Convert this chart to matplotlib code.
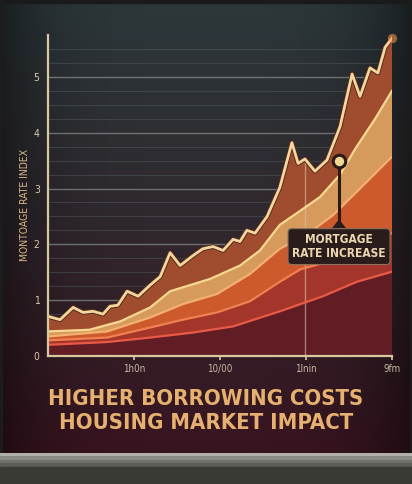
import numpy as np
import matplotlib
matplotlib.use("Agg")
import matplotlib.pyplot as plt
from matplotlib import font_manager
from matplotlib.patches import Rectangle, Polygon

# ---------------- data ----------------
top_x = [0, 3.5, 7.3, 10.2, 13.1, 16, 18, 20.3, 23, 26.2, 29.7, 32.6, 35.5, 38.4,
         42.2, 45, 48, 50.9, 53.8, 55.8, 57.8, 60.2, 63.7, 67.4, 70.9, 72.7, 74.7,
         77.6, 81.1, 84.9, 88.4, 90.7, 93.6, 95.9, 98, 100]
top_y = [0.71, 0.65, 0.87, 0.78, 0.80, 0.75, 0.89, 0.91, 1.16, 1.07, 1.27, 1.42,
         1.85, 1.62, 1.80, 1.92, 1.96, 1.89, 2.09, 2.05, 2.25, 2.20, 2.50, 3.02,
         3.82, 3.45, 3.53, 3.31, 3.51, 4.11, 5.05, 4.65, 5.16, 5.07, 5.53, 5.69]

tan_x = [0, 12, 21, 29.7, 35.5, 47.1, 55.8, 61.6, 67.4, 73.3, 79.1, 84.9, 89.2, 95.1, 100]
tan_y = [0.44, 0.47, 0.62, 0.87, 1.16, 1.38, 1.62, 1.89, 2.35, 2.60, 2.85, 3.25, 3.70, 4.25, 4.75]

org_x = [0, 17.2, 29.7, 39.2, 49.1, 58.7, 67.4, 75.3, 82.8, 90.7, 100]
org_y = [0.35, 0.44, 0.69, 0.93, 1.11, 1.47, 1.92, 2.18, 2.52, 3.00, 3.57]

red_x = [0, 17.2, 29.7, 39.2, 49.1, 58.7, 67.4, 73.3, 79.1, 86, 93, 100]
red_y = [0.28, 0.33, 0.51, 0.65, 0.78, 0.98, 1.33, 1.55, 1.65, 1.85, 2.05, 2.20]

low_x = [0, 17.2, 29.7, 42.2, 53.8, 67.4, 79.9, 89.8, 100]
low_y = [0.20, 0.25, 0.33, 0.42, 0.53, 0.80, 1.07, 1.33, 1.51]

x_ticks = [25, 50, 75, 100]
x_labels = ["1h0n", "10/00", "1lnin", "9fm"]
y_ticks = [0, 1, 2, 3, 4, 5]

marker_x, marker_y = 84.6, 3.50
vline_x = 74.7

title = "HIGHER BORROWING COSTS\nHOUSING MARKET IMPACT"
ylabel = "MONTOAGE RATE INDEX"
note = "MORTGAGE\nRATE INCREASE"

# ---------------- fonts ----------------
names = {f.name for f in font_manager.fontManager.ttflist}
if "Liberation Sans Narrow" in names:
    cond = ["Liberation Sans Narrow", "DejaVu Sans"]
    cstretch = "normal"
else:
    cond = ["DejaVu Sans"]
    cstretch = "condensed"

W, H = 412, 484
fig = plt.figure(figsize=(W / 100, H / 100), dpi=100)

# background gradient
bg = fig.add_axes([0, 0, 1, 1])
bg.set_xlim(0, W)
bg.set_ylim(H, 0)
bg.axis("off")
top_c = np.array([0x2c, 0x38, 0x3b]) / 255
mid_c = np.array([0x30, 0x28, 0x2e]) / 255
bot_c = np.array([0x38, 0x14, 0x20]) / 255
t = np.linspace(0, 1, 256)[:, None]
grad = np.where(t < 0.5, top_c * (1 - t / 0.5) + mid_c * (t / 0.5),
                mid_c * (1 - (t - 0.5) / 0.5) + bot_c * ((t - 0.5) / 0.5))
grad = grad[:, None, :].repeat(2, axis=1)
bg.imshow(grad, extent=[0, W, 453, 0], aspect="auto", zorder=0)
# side vignette
vig = np.zeros((2, 256, 4))
xx = np.linspace(-1, 1, 256)
vig[..., 3] = (np.abs(xx) ** 4 * 0.45)[None, :]
bg.imshow(vig, extent=[0, W, 453, 0], aspect="auto", zorder=1)
# frame border
bg.add_patch(Rectangle((0, 0), W, 3, color="#1a1a1a", zorder=2))
bg.add_patch(Rectangle((0, 0), 2, 453, color="#1c1c1c", zorder=2))
bg.add_patch(Rectangle((W - 2, 0), 2, 453, color="#1c1c1c", zorder=2))
# silver bar at bottom
sil = np.array([[0xb0, 0xb0, 0xa8], [0x8a, 0x8a, 0x82], [0x70, 0x70, 0x6a], [0x5c, 0x5c, 0x58]]) / 255
bg.imshow(sil[:, None, :].repeat(2, axis=1), extent=[0, W, 467, 453], aspect="auto", zorder=2)
bg.add_patch(Rectangle((0, 467), W, 17, color="#3a3a34", zorder=2))

# ---------------- main axes ----------------
ax = fig.add_axes([48 / W, 1 - 356 / H, 344 / W, 321 / H])
ax.set_facecolor("none")
ax.set_xlim(0, 100)
ax.set_ylim(0, 5.75)

for v in np.arange(0.25, 5.6, 0.25):
    major = abs(v - round(v)) < 1e-6
    ax.axhline(v, color="#8a9090" if major else "#4c5558", lw=1.0 if major else 0.8,
               alpha=0.7 if major else 0.55, zorder=1)

def band(xa, ya, xb, yb, color, z):
    px = np.concatenate([xa, xb[::-1]])
    py = np.concatenate([ya, yb[::-1]])
    ax.add_patch(Polygon(np.column_stack([px, py]), closed=True, facecolor=color,
                         edgecolor="none", zorder=z))

tx, ty = np.array(top_x), np.array(top_y)
ax_, ay_ = np.array(tan_x), np.array(tan_y)
ox, oy = np.array(org_x), np.array(org_y)
rx, ry = np.array(red_x), np.array(red_y)
lx, ly = np.array(low_x), np.array(low_y)

band(tx, ty, ax_, ay_, "#a04c2e", 2)
band(ax_, ay_, ox, oy, "#d59a5c", 2)
band(ox, oy, rx, ry, "#cc5a2c", 2)
band(rx, ry, lx, ly, "#a3352a", 2)
band(lx, ly, np.array([0, 100]), np.array([0, 0]), "#621c24", 2)

ax.plot([vline_x, vline_x], [0, 3.53], color="#d8c0a0", lw=1.0, alpha=0.6, zorder=3)

ax.plot(lx, ly, color="#e85a45", lw=1.6, zorder=4)
ax.plot(rx, ry, color="#f08050", lw=1.6, zorder=4)
ax.plot(ox, oy, color="#f4b070", lw=1.6, zorder=4)
ax.plot(ax_, ay_, color="#f8d890", lw=1.6, zorder=4)
ax.plot(tx, ty, color="#5a2a1a", lw=3.4, zorder=4, solid_joinstyle="round")
ax.plot(tx, ty, color="#f2d8a0", lw=2.0, zorder=5, solid_joinstyle="round")
ax.scatter([tx[-1]], [ty[-1]], s=45, color="#ff9a50", alpha=0.55, zorder=6, linewidths=0,
           clip_on=False)

# annotation
box_y = 1.96
ax.plot([marker_x, marker_x], [marker_y, 2.3], color="#2a1a18", lw=2.2, zorder=7)
ax.add_patch(Polygon([[marker_x - 2.3, 2.27], [marker_x + 2.3, 2.27], [marker_x, 2.45]],
                     closed=True, facecolor="#2a1c1a", edgecolor="none", zorder=7))
ax.plot([marker_x], [marker_y], marker="o", ms=9, mfc="#f0d890", mec="#2a1a18", mew=2.2, zorder=8)
ax.text(marker_x, box_y, note, ha="center", va="center", fontsize=8.6, color="#ecd6b0",
        family=cond, fontstretch=cstretch, fontweight="bold", linespacing=1.15, zorder=9,
        bbox=dict(boxstyle="round,pad=0.35,rounding_size=0.3", fc="#2a1c1a", ec="#8a7060", lw=0.8))

# axes styling
for s in ["top", "right"]:
    ax.spines[s].set_visible(False)
for s in ["left", "bottom"]:
    ax.spines[s].set_color("#d8c8a0")
    ax.spines[s].set_linewidth(1.6)
    ax.spines[s].set_zorder(10)
ax.set_yticks(y_ticks)
ax.set_yticklabels([str(v) for v in y_ticks])
ax.set_xticks(x_ticks)
ax.set_xticklabels(x_labels)
ax.tick_params(axis="y", length=0, pad=6, labelsize=7.5, labelcolor="#d8c8a8")
ax.tick_params(axis="x", length=3, width=1.2, color="#d8c8a0", pad=3, labelsize=7,
               labelcolor="#c8b8a0")
for lab in ax.get_xticklabels() + ax.get_yticklabels():
    lab.set_family(cond)
    lab.set_fontstretch(cstretch)

fig.text(25 / W, 1 - 205 / H, ylabel, rotation=90, ha="center", va="center", fontsize=7.5,
         color="#d8b888", family=cond, fontstretch=cstretch)

fig.text(0.5, 1 - 411 / H, title, ha="center", va="center", fontsize=15.8, fontweight="bold",
         color="#e6b070", family=cond, fontstretch=cstretch, linespacing=1.3)

fig.savefig("out.png", dpi=100)
